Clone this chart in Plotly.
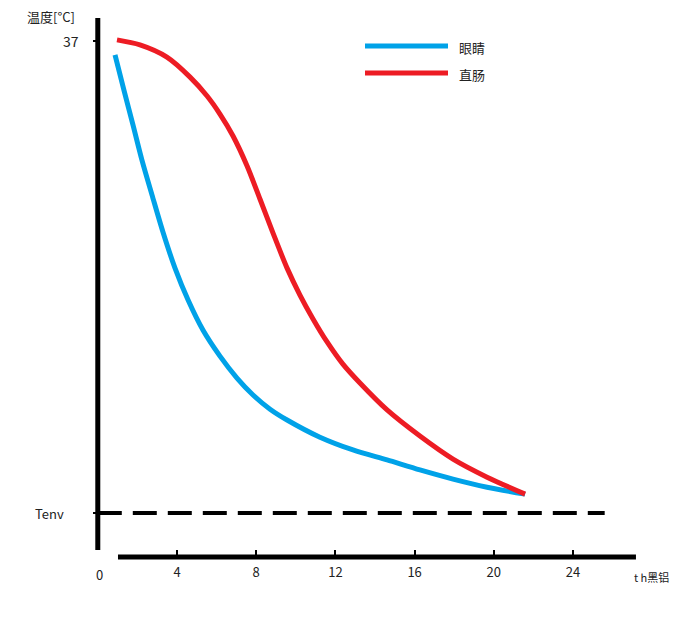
import plotly.graph_objects as go

# ---- data (time in h, temperature in °C; Tenv drawn at 20) ----
T_ENV = 20
series_names = ["眼睛", "直肠"]
series_colors = ["#00A2E8", "#ED1C24"]

eye_t = [0.87, 1.32, 1.78, 2.23, 2.74, 3.29, 3.90, 4.56, 5.31, 6.17, 7.03, 7.84,
         8.70, 9.56, 11.22, 12.89, 14.61, 16.27, 17.94, 19.66, 21.58]
eye_T = [36.50, 35.23, 33.97, 32.71, 31.45, 30.12, 28.82, 27.67, 26.59, 25.65, 24.86,
         24.25, 23.74, 23.35, 22.73, 22.27, 21.91, 21.55, 21.22, 20.93, 20.68]

rect_t = [0.97, 2.13, 3.49, 4.66, 5.52, 6.17, 6.83, 7.54, 8.19, 8.85, 9.56, 10.21,
          10.87, 11.58, 12.38, 13.24, 14.61, 16.27, 17.94, 19.66, 21.58]
rect_T = [37.04, 36.86, 36.42, 35.70, 35.02, 34.37, 33.58, 32.50, 31.31, 30.08, 28.82,
          27.85, 26.99, 26.16, 25.36, 24.68, 23.71, 22.77, 21.94, 21.29, 20.68]

x_ticks = [4, 8, 12, 16, 20, 24]
y_ticks = [T_ENV, 37]
y_tick_text = ["Tenv", "37"]
x_title = "t h黑铝"
y_title = "温度[°C]"

W, H = 680, 618
XR = [-4.939, 29.404]
YR = [16.218, 38.477]
FONT = "Noto Sans CJK SC, Noto Sans, sans-serif"
TXT = "#222"

fig = go.Figure()
for name, color, xs, ys in [(series_names[0], series_colors[0], eye_t, eye_T),
                            (series_names[1], series_colors[1], rect_t, rect_T)]:
    fig.add_trace(go.Scatter(x=xs, y=ys, mode="lines", name=name,
                             line=dict(color=color, width=5, shape="spline", smoothing=0.8),
                             showlegend=False))

# axis lines (hand-drawn style, detached)
fig.add_shape(type="line", xref="x", yref="y", x0=0, x1=0, y0=18.667, y1=37.83,
              line=dict(color="black", width=5))
fig.add_shape(type="line", xref="x", yref="y", x0=1.02, x1=27.18, y0=18.415, y1=18.415,
              line=dict(color="black", width=5))
# Tenv dashed line
fig.add_shape(type="line", xref="x", yref="y", x0=0, x1=25.6, y0=T_ENV, y1=T_ENV,
              line=dict(color="black", width=4, dash="24px,11px"))

# custom legend
leg_py = [46, 73]
for i, (name, color) in enumerate(zip(series_names, series_colors)):
    fig.add_shape(type="line", xref="paper", yref="paper", x0=365 / W, x1=448 / W,
                  y0=1 - leg_py[i] / H, y1=1 - leg_py[i] / H, line=dict(color=color, width=5))
    fig.add_annotation(xref="paper", yref="paper", x=457 / W, y=1 - (leg_py[i] + 1) / H,
                       text=name, showarrow=False, xanchor="left", yanchor="middle",
                       font=dict(family=FONT, size=13, color=TXT))

# y tick labels (hand-placed like the drawing)
fig.add_annotation(xref="paper", yref="y", x=81 / W, y=y_ticks[1], text=y_tick_text[1],
                   showarrow=False, xanchor="right", yanchor="middle",
                   font=dict(family=FONT, size=14, color=TXT))
fig.add_annotation(xref="paper", yref="y", x=66 / W, y=y_ticks[0], text=y_tick_text[0],
                   showarrow=False, xanchor="right", yanchor="middle",
                   font=dict(family=FONT, size=13, color=TXT))

# labels
fig.add_annotation(xref="paper", yref="paper", x=25 / W, y=1 - 16 / H, text=y_title,
                   showarrow=False, xanchor="left", yanchor="middle",
                   font=dict(family=FONT, size=13, color=TXT))
fig.add_annotation(xref="paper", yref="paper", x=632 / W, y=1 - 577 / H, text=x_title,
                   showarrow=False, xanchor="left", yanchor="middle",
                   font=dict(family=FONT, size=11, color=TXT))
fig.add_annotation(xref="x", yref="paper", x=0.1, y=1 - 574 / H, text="0",
                   showarrow=False, xanchor="center", yanchor="middle",
                   font=dict(family=FONT, size=13, color=TXT))

fig.update_layout(
    width=W, height=H,
    margin=dict(l=0, r=0, t=0, b=0),
    paper_bgcolor="white", plot_bgcolor="white",
    xaxis=dict(range=XR, domain=[0, 1], anchor="free", position=(H - 557) / H,
               showgrid=False, zeroline=False, showline=False,
               tickvals=x_ticks, ticktext=[str(v) for v in x_ticks],
               ticks="inside", ticklen=7, tickwidth=2, tickcolor="black",
               ticklabelstandoff=6,
               tickfont=dict(family=FONT, size=13, color=TXT)),
    yaxis=dict(range=YR, domain=[0, 1], anchor="free", position=97.8 / W,
               showgrid=False, zeroline=False, showline=False,
               tickvals=y_ticks, showticklabels=False,
               ticks="outside", ticklen=5, tickwidth=2, tickcolor="black"),
    showlegend=False,
)

fig.write_html("out.html")
